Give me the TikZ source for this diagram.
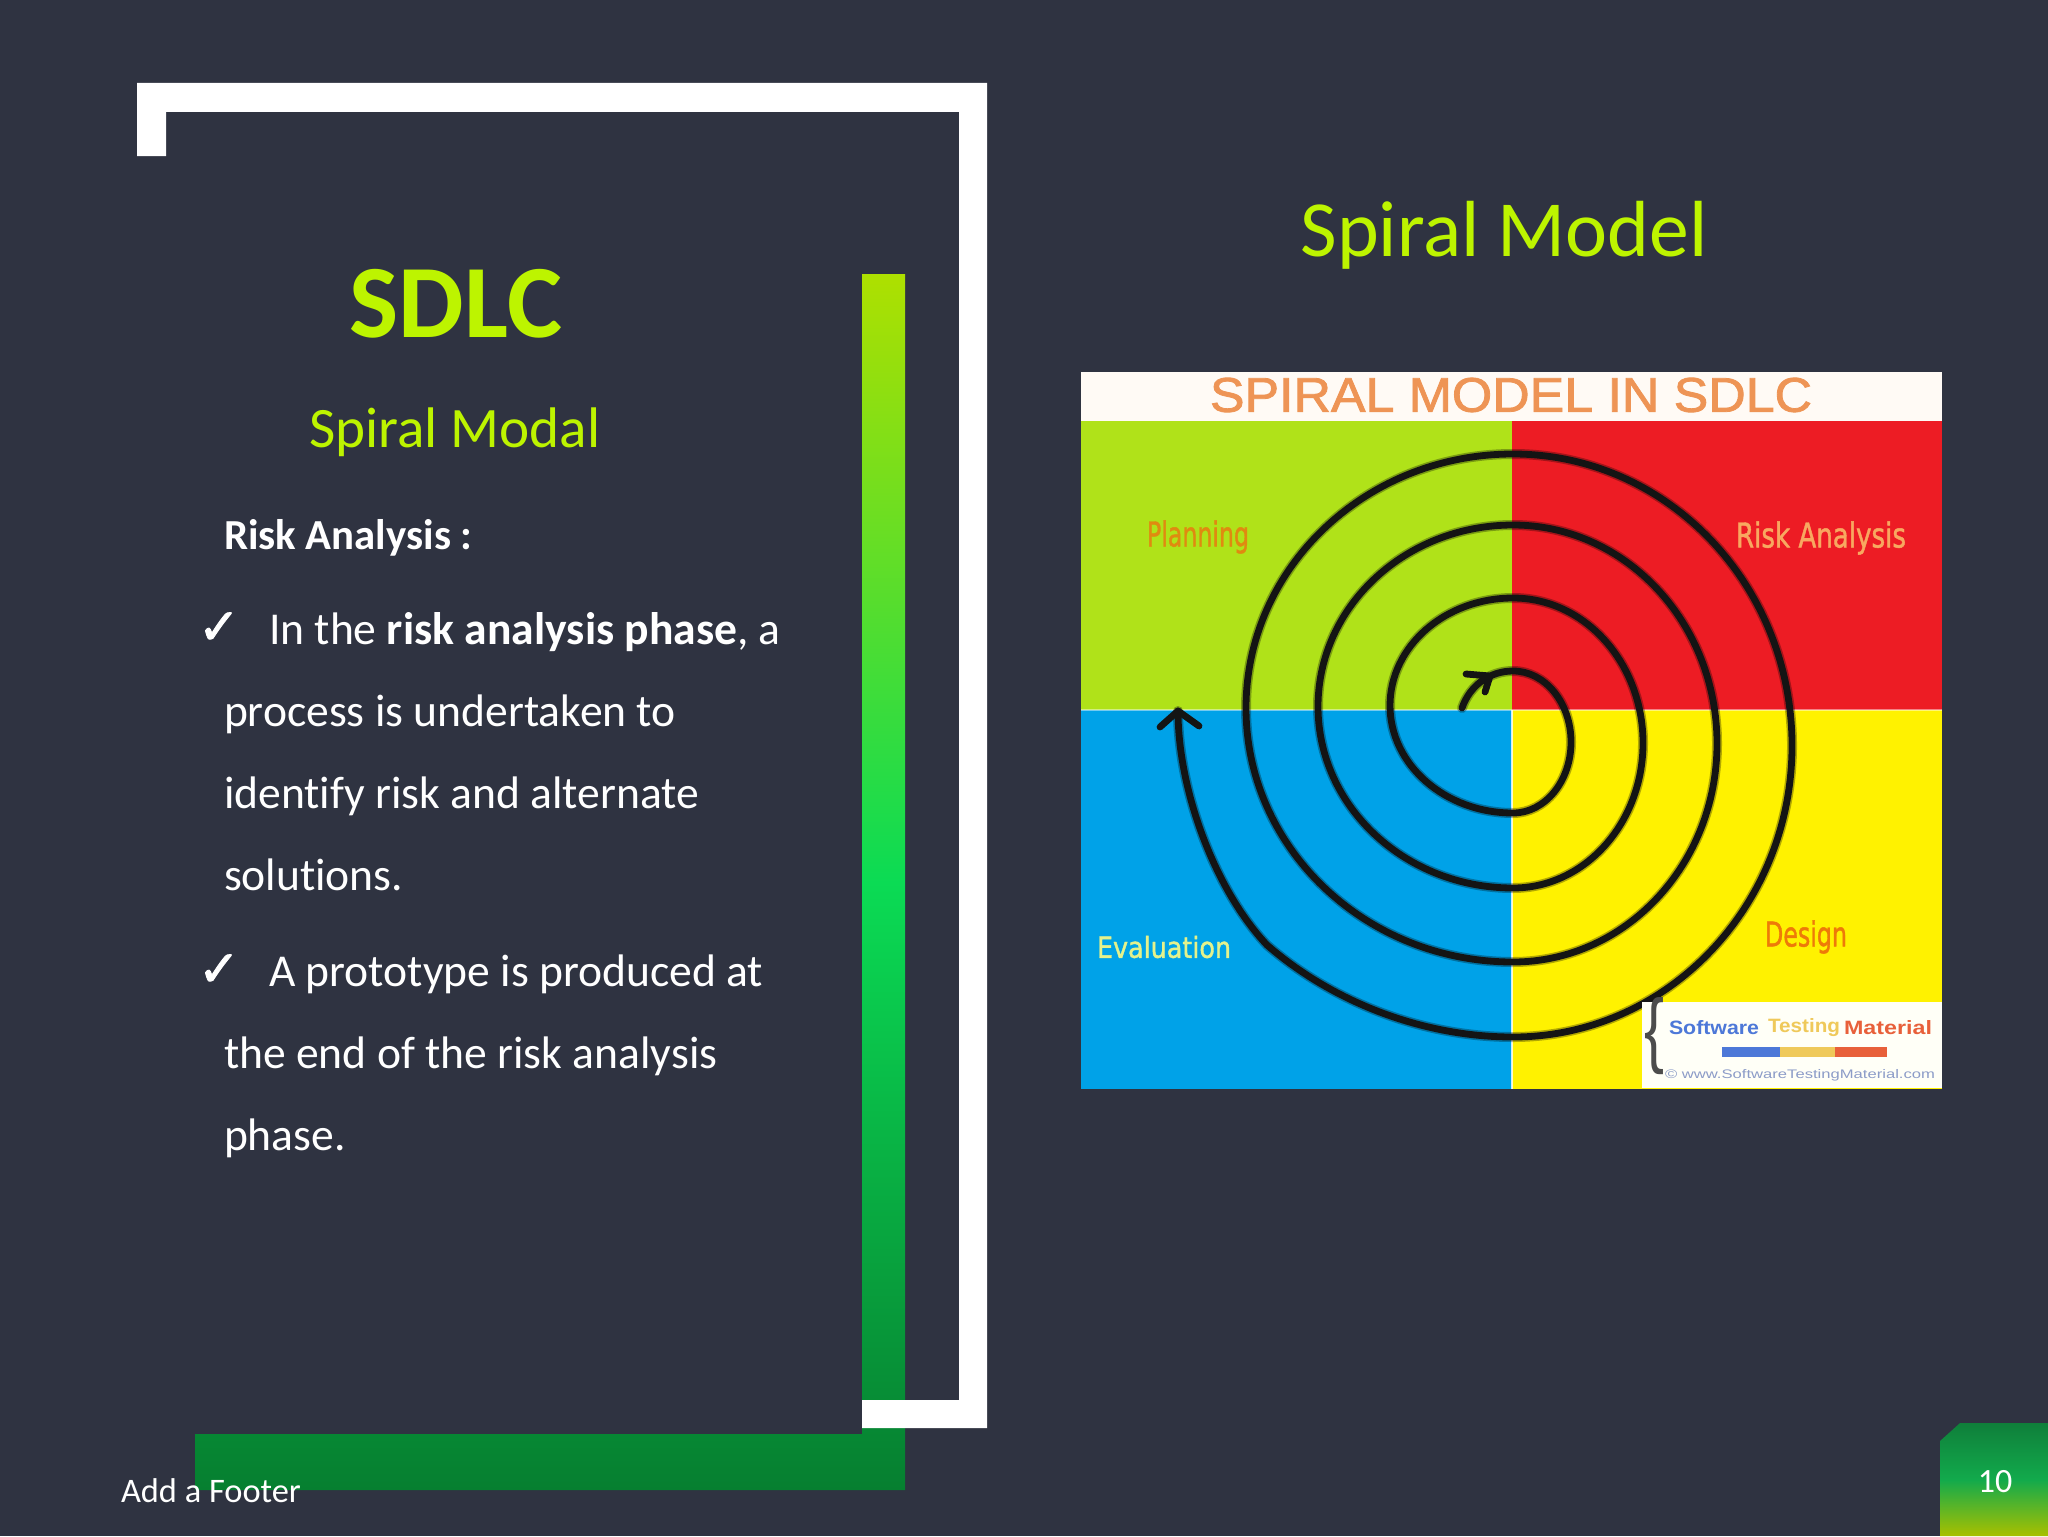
\documentclass[tikz,border=0pt]{standalone}
\usepackage{graphicx}
\usepackage{fontspec}
\setmainfont[Ligatures=NoCommon]{Carlito}
\newfontfamily\dvfont{DejaVu Sans}
\newfontfamily\dvthick[FakeBold=1.4]{DejaVu Sans}
\newfontfamily\chkfont[FakeBold=1.8]{DejaVu Sans}
\newfontfamily\lbfont{Liberation Sans}
\newfontfamily\lbthick[FakeBold=1.6]{Liberation Sans}
\definecolor{bgc}{HTML}{2F3341}
\definecolor{lime}{HTML}{BDF400}
\definecolor{gtop}{HTML}{AEE000}
\definecolor{gmid}{HTML}{0BDB54}
\definecolor{gbot}{HTML}{067F30}
\definecolor{ttop}{HTML}{0F7F3A}
\definecolor{tmid}{HTML}{12AA4C}
\definecolor{tbot}{HTML}{A8C000}
\definecolor{qgreen}{HTML}{B0E219}
\definecolor{qred}{HTML}{ED1C24}
\definecolor{qblue}{HTML}{00A2E8}
\definecolor{qyellow}{HTML}{FFF200}
\definecolor{ptitle}{HTML}{EE9455}
\definecolor{pplan}{HTML}{E08A10}
\definecolor{prisk}{HTML}{F8A860}
\definecolor{peval}{HTML}{E4F28C}
\definecolor{pdesign}{HTML}{EE7A08}
\definecolor{lblue}{HTML}{4D78D8}
\definecolor{lyellow}{HTML}{EFC95A}
\definecolor{lred}{HTML}{E8603A}
\definecolor{lurl}{HTML}{8C9CC8}
\pgfdeclareverticalshading{barshade}{100bp}{color(0bp)=(gbot); color(25bp)=(gbot); color(50bp)=(gmid); color(75bp)=(gtop); color(100bp)=(gtop)}
\pgfdeclareverticalshading{tabshade}{100bp}{color(0bp)=(tbot); color(25bp)=(tbot); color(50bp)=(tmid); color(75bp)=(ttop); color(100bp)=(ttop)}
\newcommand{\px}[2]{\fontsize{#1}{#2}\selectfont}
% half turn of the spiral: from the axis at y=#2 round the side #1 to the axis at y=#3
\newcommand{\halfturn}[3]{.. controls ({1513+.552*(#1)},#2) and ({1513+(#1)},{(#2+#3)/2-.276*(#3-#2)}) .. ({1513+(#1)},{(#2+#3)/2}) .. controls ({1513+(#1)},{(#2+#3)/2+.276*(#3-#2)}) and ({1513+.552*(#1)},#3) .. (1513,#3)}
\newcommand{\spiralpath}{(1462,708) .. controls (1470,685) and (1490,671) .. (1513,671)
 \halfturn{58}{671}{813} \halfturn{-123}{813}{598} \halfturn{130}{598}{888} \halfturn{-195}{888}{525}
 \halfturn{204}{525}{962} \halfturn{-267}{962}{454} \halfturn{279}{454}{1037}
 .. controls (1420,1037) and (1330,1000) .. (1267,945) .. controls (1215,890) and (1178,790) .. (1178,711)}
\tikzset{
  txt/.style={inner sep=0pt,outer sep=0pt,anchor=base west,text=white},
  head/.style={inner sep=0pt,outer sep=0pt,anchor=base,text=lime},
  lbl/.style={inner sep=0pt,outer sep=0pt,anchor=center},
  spiralline/.style={draw=black!92,line width=3.4pt,line join=round,line cap=round},
  spiralhalo/.style={draw=black,opacity=.3,line width=5pt,line join=round,line cap=round},
}
\begin{document}
\begin{tikzpicture}[x=.5pt,y=-.5pt]
\useasboundingbox (0,0) rectangle (2048,1536);
\fill[bgc] (0,0) rectangle (2048,1536);
% green L
\shade[shading=barshade] (862,274) -- (905,274) -- (905,1490) -- (195,1490) -- (195,1434) -- (862,1434) -- cycle;
% white frame
\fill[white] (137,83) -- (987,83) -- (987,1428) -- (862,1428) -- (862,1400) -- (959,1400) -- (959,112) -- (166,112) -- (166,156) -- (137,156) -- cycle;
% page tab
\shade[shading=tabshade] (1940,1441) -- (1960,1423) -- (2048,1423) -- (2048,1536) -- (1940,1536) -- cycle;
\node[txt,anchor=center] (pagenum) at (1995,1482) {\px{17}{20}10};
% left text
\node[head] (sdlc) at (456,337) {\px{52}{60}\bfseries SDLC};
\node[head] (modal) at (455,447) {\px{28.6}{34}Spiral Modal};
\node[txt] (risk) at (224,549) {\px{21.4}{24}\bfseries Risk Analysis :};
\node[txt] (chk1) at (198,644) {\px{25}{24}\chkfont ✓};
\node[txt] (l1) at (269,644) {\px{22.8}{24}In the \textbf{risk analysis phase}, a};
\node[txt] (l2) at (224,726) {\px{22.8}{24}process is undertaken to};
\node[txt] (l3) at (224,808) {\px{22.8}{24}identify risk and alternate};
\node[txt] (l4) at (224,890) {\px{22.8}{24}solutions.};
\node[txt] (chk2) at (198,986) {\px{25}{24}\chkfont ✓};
\node[txt] (l5) at (269,986) {\px{22.8}{24}A prototype is produced at};
\node[txt] (l6) at (224,1068) {\px{22.8}{24}the end of the risk analysis};
\node[txt] (l7) at (224,1150) {\px{22.8}{24}phase.};
\node[txt] (footer) at (121,1502) {\px{17.2}{20}Add a Footer};
\node[head] (title) at (1504,256) {\px{39.8}{46}Spiral Model};
% picture
\fill[white!96!orange] (1081,372) rectangle (1942,421);
\fill[qgreen] (1081,421) rectangle (1512,710);
\fill[qred] (1512,421) rectangle (1942,710);
\fill[qblue] (1081,710) rectangle (1512,1089);
\fill[qyellow] (1512,710) rectangle (1942,1089);
\draw[white,opacity=.45,line width=1pt] (1081,710) -- (1942,710);
\draw[white,opacity=.8,line width=1pt] (1512,710) -- (1512,1089);
\node[lbl,text=ptitle] (pictitle) at (1511,395) {\resizebox{301pt}{17pt}{\lbthick SPIRAL MODEL IN SDLC}};
% spiral
\draw[spiralhalo] \spiralpath;
\draw[spiralline] \spiralpath;
\draw[spiralline] (1466,674) -- (1490,676) -- (1485,692);
\draw[spiralline] (1160,727) -- (1178,711) -- (1199,726);
% picture labels
\node[lbl,text=pplan] (planning) at (1198,537) {\resizebox{51pt}{13pt}{\dvthick Planning}};
\node[lbl,text=prisk] (riskpic) at (1821,538) {\resizebox{85pt}{13pt}{\dvthick Risk Analysis}};
\node[lbl,text=peval] (evaluation) at (1164,947) {\resizebox{67pt}{11pt}{\dvthick Evaluation}};
\node[lbl,text=pdesign] (design) at (1806,937) {\resizebox{41pt}{13pt}{\dvthick Design}};
% logo
\fill[white!97!yellow] (1642,1002) rectangle (1942,1088);
\node[lbl,text=black!70] (brace) at (1654,1036) {\resizebox{10pt}{30pt}{\lbfont\{}};
\node[lbl,text=lblue] (logoa) at (1714,1028) {\resizebox{45pt}{7pt}{\lbfont\bfseries Software}};
\node[lbl,text=lyellow] (logob) at (1804,1028) {\resizebox{36pt}{7pt}{\lbfont\bfseries Testing}};
\node[lbl,text=lred] (logoc) at (1888,1028) {\resizebox{44pt}{7pt}{\lbfont\bfseries Material}};
\fill[lblue] (1722,1047) rectangle (1780,1057);
\fill[lyellow] (1780,1047) rectangle (1835,1057);
\fill[lred] (1835,1047) rectangle (1887,1057);
\node[lbl,text=lurl] (logourl) at (1800,1075) {\resizebox{135pt}{4.5pt}{\lbfont © www.SoftwareTestingMaterial.com}};
\end{tikzpicture}
\end{document}
